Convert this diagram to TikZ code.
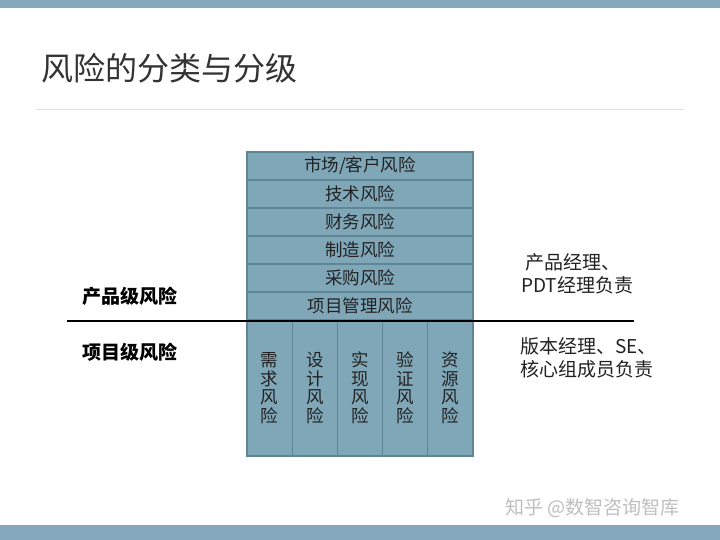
\documentclass[tikz,border=0pt]{standalone}
\usepackage{fontspec}
\setmainfont{Liberation Serif}
\newfontfamily\cjk{Noto Sans CJK SC}
\definecolor{barc}{HTML}{84A9BC}
\definecolor{boxc}{HTML}{80A7B8}
\definecolor{boxd}{HTML}{5E8695}
\definecolor{txt}{HTML}{222222}
\begin{document}
\begin{tikzpicture}[x=1pt,y=-1pt,
  riskrow/.style={draw=boxd,line width=1.2pt,fill=boxc,minimum width=226pt,minimum height=28pt,inner sep=0pt,text=txt,font=\cjk\fontsize{17.5}{17.5}\selectfont},
  riskcol/.style={draw=boxd,line width=1.2pt,fill=boxc,minimum width=45.2pt,minimum height=136pt,inner sep=0pt,text=txt,font=\cjk\fontsize{17.5}{18.5}\selectfont,align=center},
  lvl/.style={font=\cjk\bfseries\fontsize{19}{19}\selectfont,text=black,anchor=west,inner sep=0pt},
  resp/.style={font=\cjk\fontsize{19}{23}\selectfont,text=txt,anchor=north west,inner sep=0pt,align=left}]
\useasboundingbox (0,0) rectangle (720,540);
\fill[white] (0,0) rectangle (720,540);
\fill[barc] (0,0) rectangle (720,8);
\fill[barc] (0,525) rectangle (720,540);
\node[anchor=west,inner sep=0pt,font=\cjk\fontsize{32}{32}\selectfont,text=black!80] (title) at (41,68) {风险的分类与分级};
\draw[black!12,line width=1pt] (36,110) -- (684,110);
% rows
\node[riskrow] (r1) at (360,166) {市场/客户风险};
\node[riskrow] (r2) at (360,194) {技术风险};
\node[riskrow] (r3) at (360,222) {财务风险};
\node[riskrow] (r4) at (360,250) {制造风险};
\node[riskrow] (r5) at (360,278) {采购风险};
\node[riskrow] (r6) at (360,306) {项目管理风险};
% columns
\node[riskcol] (c1) at (269.6,388) {需\\求\\风\\险};
\node[riskcol] (c2) at (314.8,388) {设\\计\\风\\险};
\node[riskcol] (c3) at (360,388) {实\\现\\风\\险};
\node[riskcol] (c4) at (405.2,388) {验\\证\\风\\险};
\node[riskcol] (c5) at (450.4,388) {资\\源\\风\\险};
% divider
\coordinate (dl) at (67,321);
\coordinate (dr) at (634,321);
\draw[black,line width=2pt] (dl) -- (dr);
\node[lvl] (p) at (82,296) {产品级风险};
\node[lvl] (q) at (82,352) {项目级风险};
\node[resp] (pr) at (521,253) {\ 产品经理、\\PDT经理负责};
\node[resp] (qr) at (520,337) {版本经理、SE、\\核心组成员负责};
\node[anchor=west,inner sep=0pt,font=\cjk\fontsize{19}{19}\selectfont,text=black!25] (wm) at (505,508) {知乎 @数智咨询智库};
\end{tikzpicture}
\end{document}
